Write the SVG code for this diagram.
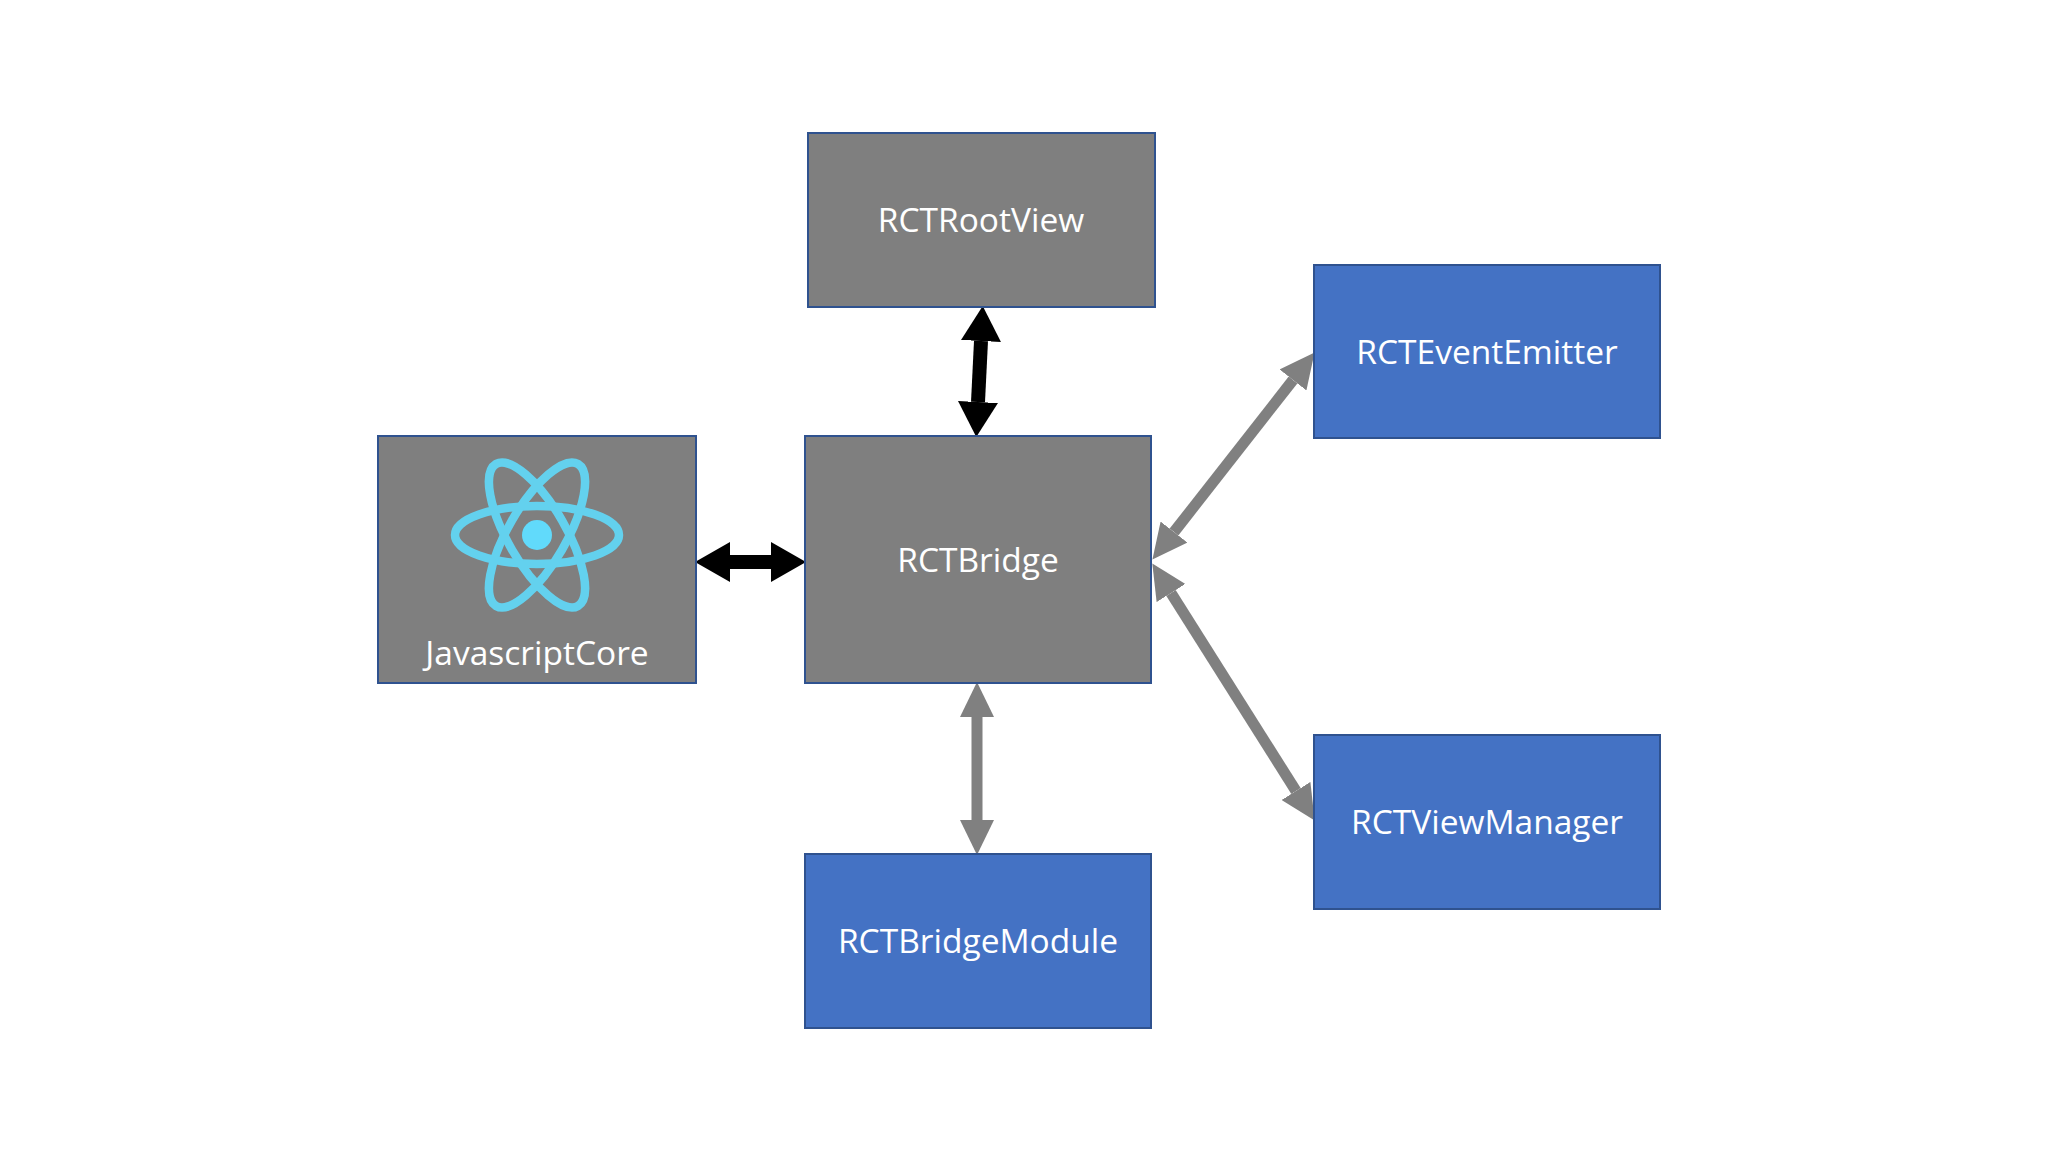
<svg xmlns="http://www.w3.org/2000/svg" width="2048" height="1152" viewBox="0 0 2048 1152">
<style>
.g{fill:#7f7f7f;stroke:#2f528f;stroke-width:2}
.b{fill:#4472c4;stroke:#2f528f;stroke-width:2}
text{font-family:"Open Sans","Liberation Sans",sans-serif;font-size:33.5px;fill:#fff;text-anchor:middle}
.k{stroke:#000;stroke-width:14;fill:none}
.y{stroke:#808080;stroke-width:11;fill:none}
</style>
<defs>
<marker id="mk" markerUnits="userSpaceOnUse" orient="auto-start-reverse" refX="0" refY="0" viewBox="0 -20 35 40" markerWidth="35" markerHeight="40"><path d="M0,-20L35,0L0,20z" fill="#000"/></marker>
<marker id="mg" markerUnits="userSpaceOnUse" orient="auto-start-reverse" refX="0" refY="0" viewBox="0 -17 35 34" markerWidth="35" markerHeight="34"><path d="M0,-17L35,0L0,17z" fill="#808080"/></marker>
</defs>
<rect width="2048" height="1152" fill="#fff"/>
<g id="connectors">
<line class="k" x1="730" y1="562" x2="771" y2="562" marker-start="url(#mk)" marker-end="url(#mk)"/>
<line class="k" x1="981" y1="341" x2="978" y2="402" marker-start="url(#mk)" marker-end="url(#mk)"/>
<line class="y" x1="977" y1="717" x2="977" y2="820" marker-start="url(#mg)" marker-end="url(#mg)"/>
<line class="y" x1="1174" y1="532" x2="1293" y2="380" marker-start="url(#mg)" marker-end="url(#mg)"/>
<line class="y" x1="1171" y1="593" x2="1296" y2="791" marker-start="url(#mg)" marker-end="url(#mg)"/>
</g>
<g id="rootview"><rect class="g" x="808" y="133" width="347" height="174"/><text x="981" y="232">RCTRootView</text></g>
<g id="eventemitter"><rect class="b" x="1314" y="265" width="346" height="173"/><text x="1487" y="364">RCTEventEmitter</text></g>
<g id="jscore"><rect class="g" x="378" y="436" width="318" height="247"/>
<g fill="none" stroke="#61dafb" stroke-width="8.5" opacity="0.9"><ellipse cx="537" cy="535" rx="82" ry="29"/><ellipse cx="537" cy="535" rx="82" ry="29" transform="rotate(60 537 535)"/><ellipse cx="537" cy="535" rx="82" ry="29" transform="rotate(120 537 535)"/></g>
<circle cx="537" cy="535" r="15" fill="#61dafb"/>
<text x="537" y="665">JavascriptCore</text></g>
<g id="bridge"><rect class="g" x="805" y="436" width="346" height="247"/><text x="978" y="572">RCTBridge</text></g>
<g id="viewmanager"><rect class="b" x="1314" y="735" width="346" height="174"/><text x="1487" y="834">RCTViewManager</text></g>
<g id="bridgemodule"><rect class="b" x="805" y="854" width="346" height="174"/><text x="978" y="953">RCTBridgeModule</text></g>
</svg>
